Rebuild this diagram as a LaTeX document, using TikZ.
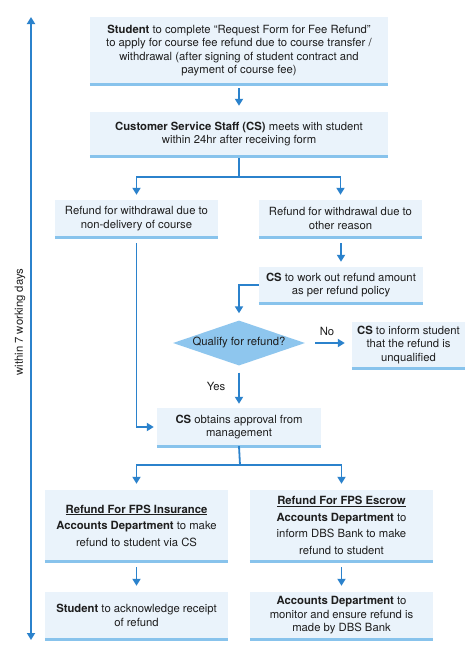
\documentclass[tikz,border=0pt]{standalone}
\usepackage{fontspec}
\setmainfont{TeX Gyre Heros}
\usetikzlibrary{arrows.meta,shapes.geometric}
\definecolor{arrowblue}{HTML}{2B82CC}
\definecolor{boxfill}{HTML}{EAF3FB}
\definecolor{boxline}{HTML}{88C3EC}
\definecolor{diafill}{HTML}{8EC6EE}
\definecolor{textcol}{HTML}{1E1E1E}
\begin{document}
\begin{tikzpicture}[x=1pt,y=-1pt,
  every node/.style={text=textcol,font=\fontsize{11.3}{13.5}\selectfont},
  flowbox/.style={fill=boxfill,inner sep=0pt,align=center,anchor=center},
  bline/.style={draw=boxline,line width=3pt},
  conn/.style={draw=arrowblue,line width=1.8pt},
  arr/.style={conn,-{Triangle[width=8pt,length=7pt]}},
  darr/.style={conn,{Triangle[width=8pt,length=7pt]}-{Triangle[width=8pt,length=7pt]}},
  decision/.style={diamond,fill=diafill,inner sep=0pt,aspect=2.9},
  lbl/.style={inner sep=0pt}]
\useasboundingbox[fill=white] (0,0) rectangle (474,670);

% boxes
\node[flowbox,minimum width=298pt,minimum height=67pt] (b1) at (239,50.5)
  {\textbf{Student} to complete “Request Form for Fee Refund”\\
   to apply for course fee refund due to course transfer /\\
   withdrawal (after signing of student contract and\\
   payment of course fee)};
\node[flowbox,minimum width=298pt,minimum height=44pt] (b2) at (239,134)
  {\textbf{Customer Service Staff (CS)} meets with student\\
   within 24hr after receiving form};
\node[flowbox,minimum width=163pt,minimum height=37pt] (b3) at (136.5,218.5)
  {Refund for withdrawal due to\\non-delivery of course};
\node[flowbox,minimum width=163pt,minimum height=37pt] (b4) at (340.5,218.5)
  {Refund for withdrawal due to\\other reason};
\node[flowbox,minimum width=164pt,minimum height=36pt] (b5) at (341,285)
  {\textbf{CS} to work out refund amount\\as per refund policy};
\node[decision,minimum width=132pt,minimum height=45pt] (dia) at (239,343)
  {Qualify for refund?};
\node[flowbox,minimum width=113pt,minimum height=46pt] (b6) at (408.5,345)
  {\textbf{CS} to inform student\\that the refund is\\unqualified};
\node[flowbox,minimum width=164pt,minimum height=38pt] (b7) at (239,427)
  {\textbf{CS} obtains approval from\\management};
\node[flowbox,minimum width=183pt,minimum height=71pt,
      font=\fontsize{11.3}{16.5}\selectfont] (b8) at (136.5,525.5)
  {\underline{\textbf{Refund For FPS Insurance}}\\
   \textbf{Accounts Department} to make\\refund to student via CS};
\node[flowbox,minimum width=183pt,minimum height=71pt,
      font=\fontsize{11.3}{16.6}\selectfont] (b9) at (341.5,525.5)
  {\underline{\textbf{Refund For FPS Escrow}}\\
   \textbf{Accounts Department} to\\inform DBS Bank to make\\refund to student};
\node[flowbox,minimum width=183pt,minimum height=47pt] (b10) at (136.5,615.5)
  {\textbf{Student} to acknowledge receipt\\of refund};
\node[flowbox,minimum width=183pt,minimum height=47pt] (b11) at (341.5,615.5)
  {\textbf{Accounts Department} to\\monitor and ensure refund is\\made by DBS Bank};

% bottom rules of boxes
\foreach \n in {b1,b2,b3,b4,b5,b6,b7,b8,b9,b10,b11}
  \draw[bline] (\n.south west) -- (\n.south east);

% connectors
\coordinate (split1) at (239,177);
\coordinate (split2) at (240,465);
\coordinate (ltop) at (31,17);
\coordinate (lbot) at (31,640);

\draw[arr,shorten <=4pt,shorten >=6pt] (b1.south) -- (b2.north);
\draw[conn,shorten <=2pt] (b2.south) -- (split1);
\draw[arr,shorten >=5pt] (split1) -| (b3.north);
\draw[arr,shorten >=5pt] (split1) -| (b4.north);
\draw[arr,shorten <=6pt,shorten >=5pt] (b4.south -| b5.north) -- (b5.north);
\draw[arr,shorten >=7pt] (b5.west) -| (dia.north);
\draw[arr,shorten <=10pt,shorten >=7pt] (dia.east) -- (dia.east -| b6.west);
\draw[arr,shorten <=7pt,shorten >=4pt] (dia.south) -- (b7.north);
\draw[arr,shorten <=6pt,shorten >=3pt] (b3.south) |- (b7.west);
\draw[conn] (b7.south) -- (split2);
\draw[arr,shorten >=6pt] (split2) -| (b8.north);
\draw[arr,shorten >=6pt] (split2) -| (b9.north);
\draw[arr,shorten <=6pt,shorten >=6pt] (b8.south) -- (b10.north);
\draw[arr,shorten <=6pt,shorten >=6pt] (b9.south) -- (b11.north);
\draw[darr] (ltop) -- (lbot);

% labels
\node[lbl] (no) at (327,331) {No};
\node[lbl] (yes) at (216,386) {Yes};
\node[lbl,rotate=90] (days) at (20,322) {within 7 working days};
\end{tikzpicture}
\end{document}
